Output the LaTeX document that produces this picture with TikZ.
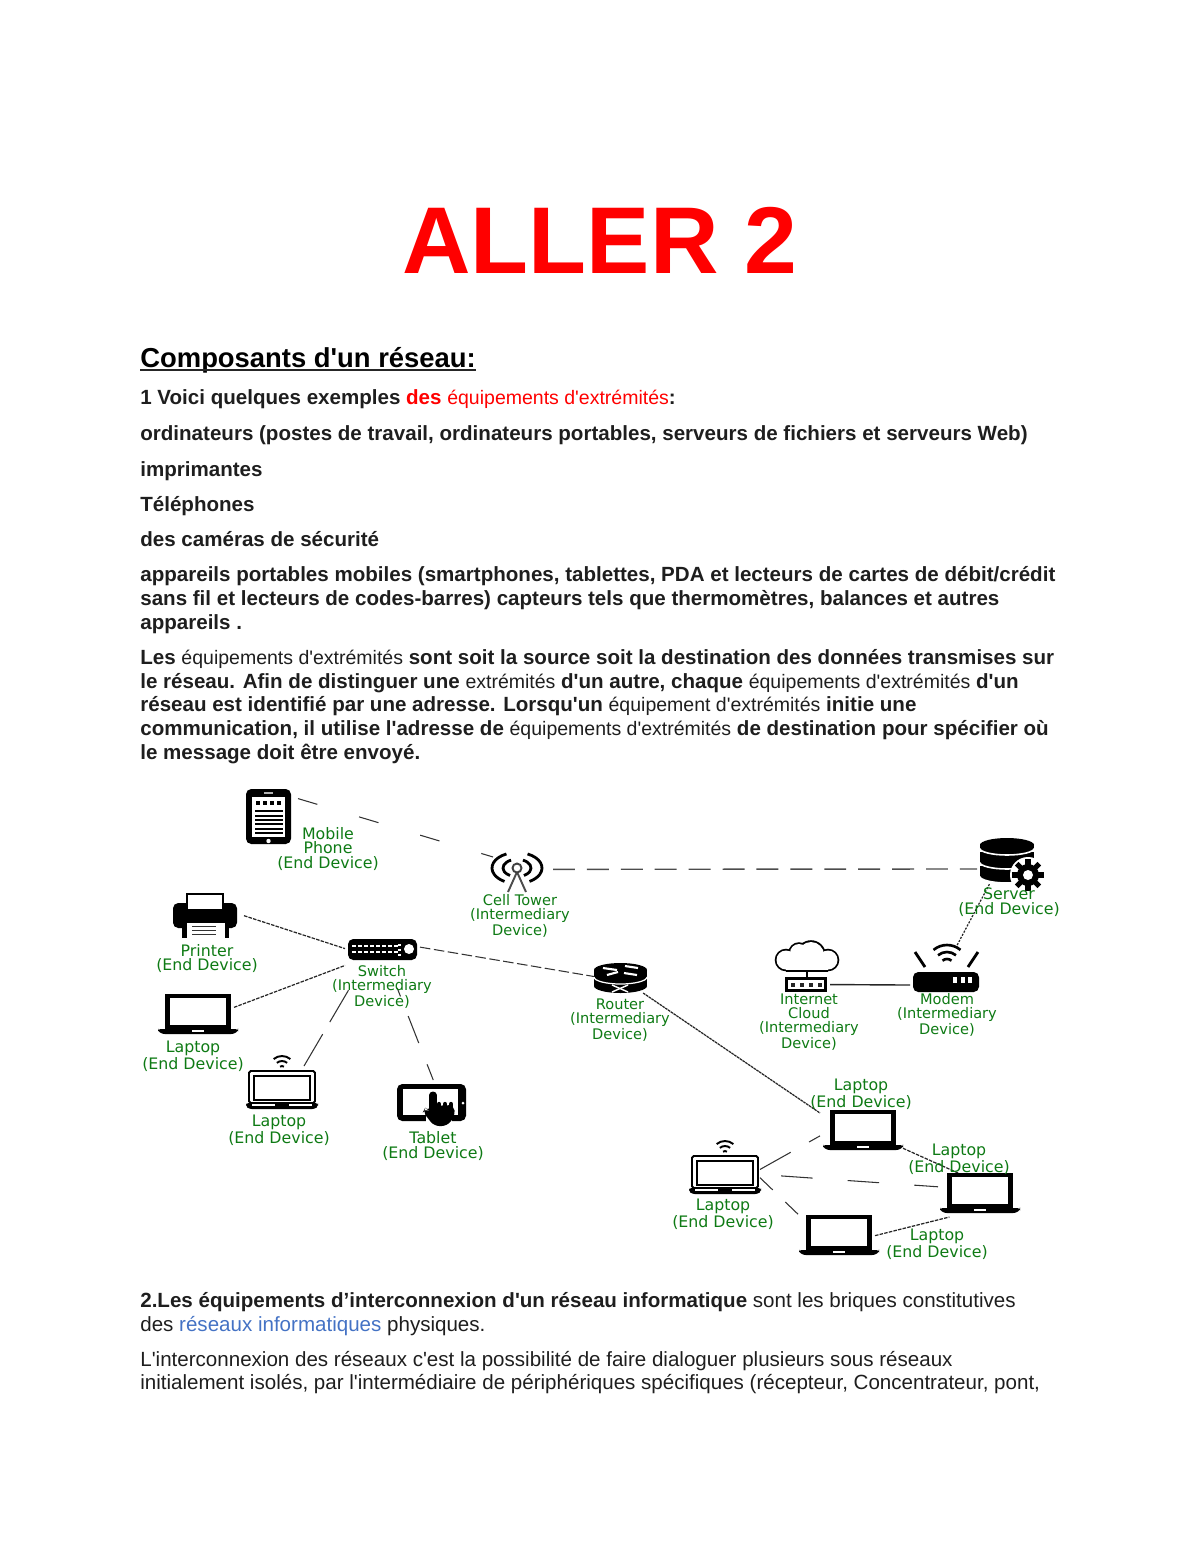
\documentclass[tikz,border=0pt]{standalone}
\usepackage{fontspec}
\setmainfont{Liberation Sans}[Ligatures=TeXOff]
\newfontfamily\devicefont{DejaVu Sans}
\usetikzlibrary{calc}

\definecolor{bodyink}{RGB}{30,30,30}
\definecolor{linkblue}{RGB}{68,114,196}
\definecolor{devicegreen}{RGB}{14,122,20}
\newcommand{\lightpart}[1]{{\fontsize{11.1}{14}\selectfont #1}}

\begin{document}
\begin{tikzpicture}[
	x=0.02cm,
	y=-0.02cm,
	textline/.style={anchor=base west, inner sep=0, text=bodyink, font=\fontsize{11.7}{14}\selectfont},
	devicelabel/.style={align=center, inner sep=0, text=devicegreen, font=\devicefont\fontsize{9}{8.5}\selectfont},
	hublabel/.style={devicelabel, font=\devicefont\fontsize{8.3}{8}\selectfont},
	box/.style 2 args={inner sep=0, outer sep=0, minimum width=#1*0.02cm, minimum height=#2*0.02cm},
	link/.style={black!80, line width=0.6pt},
	finelink/.style={black!85, line width=0.7pt, dash pattern=on 2pt off 0.7pt},
	wide/.style={black!70, line width=0.8pt, dash pattern=on 12.5pt off 6.8pt},
	laptopsolid/.pic={
		\fill (-33,-35) rectangle (33,0);
		\fill[white] (-28,-31) rectangle (28,-4);
		\fill[rounded corners=1.5pt] (-40,0) -- (40,0) -- (40,2) -- (36,5) -- (-36,5) -- (-40,2) -- cycle;
		\fill[white] (-6,1) rectangle (6,3);
	},
	laptopwifi/.pic={
		\draw[line width=1.1pt, rounded corners=1pt] (-33,-32) rectangle (33,0);
		\draw[line width=1.1pt] (-28,-27) rectangle (28,-3);
		\fill[rounded corners=1.5pt] (-36,0) -- (36,0) -- (36,3) -- (33,6) -- (-33,6) -- (-36,3) -- cycle;
		\fill[white] (-30,1) rectangle (-7,2.5);
		\fill[white] (7,1) rectangle (30,2.5);
		\foreach \r in {3,8,13}
			\draw[line width=1.1pt] (0,-34) ++(-50:\r) arc[start angle=-50, end angle=-130, radius=\r];
	},
	]
% page text
\node[inner sep=0, text=red, font=\fontsize{54}{60}\bfseries\selectfont] (title) at (600,240) {ALLER 2};
\node[textline, font=\fontsize{15.6}{17}\bfseries\selectfont, text=black] (head) at (140,367) {Composants d'un réseau:};
\draw[line width=1.1pt, black!85] ($(head.base west)+(0,3)$) -- ($(head.base east)+(0,3)$);

\node[textline] (linea) at (140,404) {\textbf{1 Voici quelques exemples }\textcolor{red}{\textbf{des} \lightpart{équipements d'extrémités}}\textbf{:}};
\node[textline] (lineb) at (140,440) {\textbf{ordinateurs (postes de travail, ordinateurs portables, serveurs de fichiers et serveurs Web)}};
\node[textline] (linec) at (140,476) {\textbf{imprimantes}};
\node[textline] (lined) at (140,511) {\textbf{Téléphones}};
\node[textline] (linee) at (140,546) {\textbf{des caméras de sécurité}};
\node[textline] (linef) at (140,581) {\textbf{appareils portables mobiles (smartphones, tablettes, PDA et lecteurs de cartes de débit/crédit}};
\node[textline] (lineg) at (140,605) {\textbf{sans fil et lecteurs de codes-barres) capteurs tels que thermomètres, balances et autres}};
\node[textline] (lineh) at (140,629) {\textbf{appareils .}};
\node[textline] (linei) at (140,664) {\textbf{Les} \lightpart{équipements d'extrémités} \textbf{sont soit la source soit la destination des données transmises sur}};
\node[textline] (linej) at (140,688) {\textbf{le réseau. Afin de distinguer une} \lightpart{extrémités} \textbf{d'un autre, chaque} \lightpart{équipements d'extrémités} \textbf{d'un}};
\node[textline] (linek) at (140,711) {\textbf{réseau est identifié par une adresse. Lorsqu'un} \lightpart{équipement d'extrémités} \textbf{initie une}};
\node[textline] (linel) at (140,735) {\textbf{communication, il utilise l'adresse de} \lightpart{équipements d'extrémités} \textbf{de destination pour spécifier où}};
\node[textline] (linem) at (140,759) {\textbf{le message doit être envoyé.}};

\node[textline] (linen) at (140,1307) {\textbf{2.Les équipements d’interconnexion d'un réseau informatique} sont les briques constitutives};
\node[textline] (lineo) at (140,1331) {des \textcolor{linkblue}{réseaux informatiques} physiques.};
\node[textline] (linep) at (140,1366) {L'interconnexion des réseaux c'est la possibilité de faire dialoguer plusieurs sous réseaux};
\node[textline] (lineq) at (140,1389) {initialement isolés, par l'intermédiaire de périphériques spécifiques (récepteur, Concentrateur, pont,};

% device nodes
\node[box={59}{66}] (phone) at (268.5,817) {};
\node[box={61}{30}] (tower) at (522.5,872) {};
\node[box={68}{45}] (server) at (1011,860.5) {};
\node[box={78}{48}] (printer) at (205,915) {};
\node[box={75}{53}] (switch) at (382.5,961.5) {};
\node[box={56}{33}] (router) at (622,976.5) {};
\node[box={54}{50}] (cloud) at (803,967) {};
\node[box={72}{48}] (modem) at (946,969) {};
\node[box={72}{42}] (laptopa) at (198,1015) {};
\node[box={72}{44}] (laptopb) at (282,1088) {};
\node[box={70}{50}] (tablet) at (431.5,1105) {};
\node[box={83}{37}] (laptopc) at (861.5,1131.5) {};
\node[box={70}{54}] (laptopd) at (725,1167) {};
\node[box={82}{43}] (laptope) at (979,1195.5) {};
\node[box={71}{42}] (laptopf) at (839.5,1235) {};

% links
\draw[link, dash pattern=on 11.5pt off 24.8pt] (phone.32.8) -- (tower.153.8);
\draw[wide] (tower.5.6) -- (server.194);
\draw[finelink] (printer.-1.5) -- (switch.161.6);
\draw[finelink] (laptopa.12.5) -- (switch.186.8);
\draw[link, dash pattern=on 6pt off 2pt] (switch.21.1) -- (router.180);
\draw[link, dash pattern=on 21pt off 8pt] (laptopb.45) -- (switch.219.2);
\draw[link, dash pattern=on 9.6pt off 13pt on 16.5pt off 12pt on 8pt off 10pt] (tablet.86.6) -- (switch.-61.3);
\draw[finelink, dash pattern=on 1.5pt off 0.4pt] (router.-38.2) -- (laptopc.156);
\draw[black!85, line width=0.8pt] (cloud.-33.7) -- (modem.204);
\draw[finelink, dash pattern=on 1.2pt off 0.8pt] (modem.65.4) -- (server.227);
\draw[link, dash pattern=on 20pt off 12pt] (laptopd.-4.9) -- (laptopc.186.2);
\draw[link, dash pattern=on 18pt off 20pt, dash phase=26pt] (laptopd.-12.2) -- (laptope.168.3);
\draw[link, dash pattern=on 10pt off 10pt] (laptopd.-17.4) -- (laptopf.157.1);
\draw[finelink] (laptopc.-22.9) -- (laptope.131.5);
\draw[finelink] (laptopf.-1.6) -- (laptope.216.6);

% icons
\pic at (198,1029) {laptopsolid};
\pic at (863,1145) {laptopsolid};
\pic at (980,1208) {laptopsolid};
\pic at (839,1250) {laptopsolid};
\pic at (282,1103) {laptopwifi};
\pic at (725,1188) {laptopwifi};

% phone
\fill[rounded corners=3pt] (246,789) rectangle (291,844);
\fill[white] (252,797) rectangle (285,837);
\fill[white] (268.5,841) circle (2.2);
\fill[white!70!black] (264,792) rectangle (273,794);
\foreach \x in {256,263,270,277}
	\fill (\x,801) rectangle (\x+4,805);
\foreach \y in {810,815,819,823,828,832}
	\fill (255,\y) rectangle (283,\y+1.5);

% tower
\draw[black!70, line width=1.1pt] (508,892) -- (517,872) -- (526,892);
\draw[black!75, line width=1.1pt, fill=white] (517,868) circle (4.5);
\foreach \r in {14,25}{
	\draw[line width=1.6pt] (517,868) ++({\r*cos(65)},{-0.62*\r*sin(65)}) arc[start angle=-65, end angle=60, x radius=\r, y radius=0.62*\r];
	\draw[line width=1.6pt] (517,868) ++({-\r*cos(65)},{-0.62*\r*sin(65)}) arc[start angle=245, end angle=120, x radius=\r, y radius=0.62*\r];
}

% server
\foreach \t/\b in {866/876,852/862,844/848}{
	\fill[draw=white, line width=0.9pt] (1007,\b) ellipse (27.5 and 7);
	\fill (980,\t) rectangle (1034,\b);
}
\fill (1007,845) ellipse (27 and 7);
\fill[white] (1028,875) circle (18);
\foreach \a in {0,45,...,315}
	\draw[line width=3pt] (1028,875) ++(\a:9) -- ++(\a:7);
\fill (1028,875) circle (11);
\fill[white] (1028,875) circle (5);

% printer
\fill[rounded corners=3pt] (173,903) rectangle (237,928);
\draw[line width=1.4pt, fill=white] (187,894) rectangle (223,910);
\fill (182,917) rectangle (229,938);
\fill[white] (187,923) rectangle (225,938);
\foreach \y in {926,930,934}
	\fill[black!80] (192,\y) rectangle (216,\y+1);

% switch
\fill[rounded corners=3pt] (348,939) rectangle (417,960);
\foreach \x in {352,358,...,394}{
	\fill[white] (\x,945) rectangle (\x+4,947);
	\fill[white] (\x,951) rectangle (\x+4,953);
}
\foreach \y in {944,949,954}
	\fill[white] (398,\y) rectangle (400.5,\y+2);
\fill[white] (409,949) circle (5);

% router
\fill (594,970) rectangle (647,986);
\fill (620.5,986) ellipse (26.5 and 7);
\fill (620.5,970) ellipse (26.5 and 7);
\draw[white, line width=0.7pt] (594,977) arc[start angle=180, end angle=0, x radius=26.5, y radius=7];
\draw[white, line width=1.2pt] (603,968) -- (617,970);
\draw[white, line width=1.2pt] (625,966) -- (638,968);
\draw[white, line width=1.2pt] (607,975) -- (618,972);
\draw[white, line width=1.2pt] (624,973) -- (637,975);
\draw[white, line width=0.8pt] (612,992) -- (628,985);
\draw[white, line width=0.8pt] (612,985) -- (628,992);

% cloud
\foreach \x/\y/\r in {786/960/9.5,799/953/9,811/955/13,828/960/9.5}
	\fill (\x,\y) circle (\r+1.8);
\fill (786,960) rectangle (828,971.5);
\foreach \x/\y/\r in {786/960/9.5,799/953/9,811/955/13,828/960/9.5}
	\fill[white] (\x,\y) circle (\r);
\fill[white] (786,960) rectangle (828,969.5);
\draw[line width=1.4pt] (807,971) -- (807,978);
\fill (785,977) rectangle (827,992);
\fill[white] (788,980) rectangle (824,989);
\foreach \x in {793,802,811,820}
	\fill[black!85] (\x-1.7,983) rectangle (\x+1.7,986.5);

% modem
\fill[rounded corners=3pt] (913,972) rectangle (979,992);
\foreach \x in {955,963,970}
	\fill[white] (\x-1.7,977) rectangle (\x+1.7,983);
\draw[line width=1.6pt] (915,952) -- (925,967);
\draw[line width=1.6pt] (978,952) -- (968,967);
\foreach \r in {7,14,21}
	\draw[line width=1.5pt] (947,966) ++(-50:\r) arc[start angle=-50, end angle=-130, radius=\r];

% tablet
\fill[rounded corners=3pt] (397,1084) rectangle (466,1121);
\fill[white] (403,1089) rectangle (458,1115);
\fill[white] (463,1103) circle (1.5);
\fill[white] (426,1099) rectangle (452,1127);
\draw[line width=4pt, line cap=round] (433,1095) -- (433,1112);
\fill[rounded corners=3pt] (430,1106) -- (454,1105) -- (455,1116) -- (447,1126) -- (434,1126) -- (423,1112) -- (425,1108) -- (430,1111) -- cycle;
\foreach \x in {439,445,451}
	\draw[line width=2.5pt, line cap=round] (\x,1104) -- (\x,1110);

% labels
\node[devicelabel] (phonelabel) at (328,849) {Mobile\\Phone\\(End Device)};
\node[hublabel] (towerlabel) at (520,916) {Cell Tower\\(Intermediary\\Device)};
\node[devicelabel] (serverlabel) at (1009,902) {Server\\(End Device)};
\node[devicelabel] (printerlabel) at (207,958.5) {Printer\\(End Device)};
\node[hublabel] (switchlabel) at (382,987) {Switch\\(Intermediary\\Device)};
\node[hublabel] (routerlabel) at (620,1020) {Router\\(Intermediary\\Device)};
\node[hublabel] (cloudlabel) at (809,1022.5) {Internet\\Cloud\\(Intermediary\\Device)};
\node[hublabel] (modemlabel) at (947,1015) {Modem\\(Intermediary\\Device)};
\node[devicelabel] (laptopalabel) at (193,1056) {Laptop\\(End Device)};
\node[devicelabel] (laptopblabel) at (279,1130) {Laptop\\(End Device)};
\node[devicelabel] (tabletlabel) at (433,1146) {Tablet\\(End Device)};
\node[devicelabel] (laptopclabel) at (861,1094) {Laptop\\(End Device)};
\node[devicelabel] (laptopelabel) at (959,1159) {Laptop\\(End Device)};
\node[devicelabel] (laptopdlabel) at (723,1214) {Laptop\\(End Device)};
\node[devicelabel] (laptopflabel) at (937,1244) {Laptop\\(End Device)};

\useasboundingbox (0,0) rectangle (1200,1553);
\end{tikzpicture}
\end{document}
